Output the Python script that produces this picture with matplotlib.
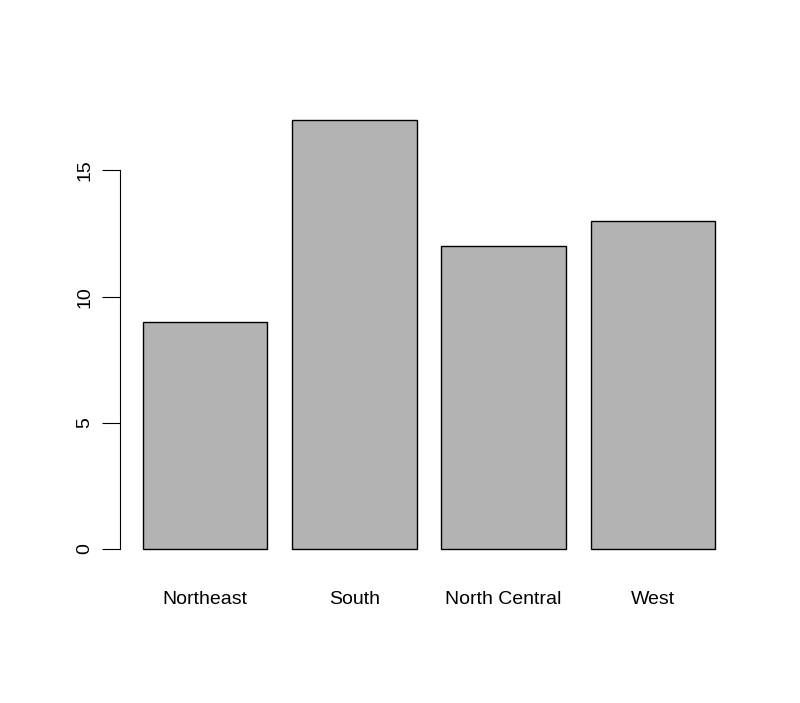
import matplotlib
matplotlib.use("Agg")
import matplotlib.pyplot as plt

plt.rcParams['font.family'] = ['Liberation Sans', 'DejaVu Sans']

categories = ["Northeast", "South", "North Central", "West"]
values = [9, 17, 12, 13]
yticks = [0, 5, 10, 15]

fig = plt.figure(figsize=(8, 7.03), dpi=100)
ax = fig.add_axes([118/800, 154/703, (715-118)/800, (583-154)/703])
centers = [0.7 + 1.2*i for i in range(len(values))]
bars = ax.bar(centers, values, width=1.0, color="#b3b3b3", edgecolor="black", linewidth=1)
for b in bars:
    b.set_clip_on(False)
ax.set_xlim(0, 4.8)
ax.set_ylim(0, 17)
for s in ["top", "right", "bottom"]:
    ax.spines[s].set_visible(False)
ax.spines["left"].set_bounds(0, 15)
ax.spines["left"].set_position(("data", 0.016))
ax.set_yticks(yticks)
ax.set_yticklabels([str(t) for t in yticks], rotation=90, va="center", fontsize=14)
ax.tick_params(axis="y", length=13, pad=6)
ax.set_xticks(centers)
ax.set_xticklabels(categories, fontsize=14)
ax.tick_params(axis="x", length=0, pad=30)
fig.savefig("out.png")
